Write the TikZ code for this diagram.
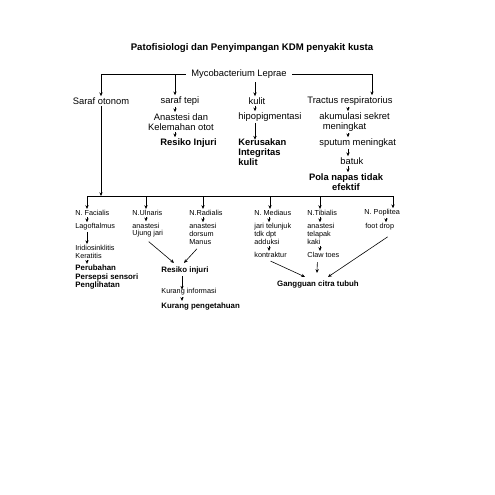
\documentclass[tikz,border=0pt]{standalone}
\usepackage{fontspec}
\setmainfont{Liberation Sans}
\usetikzlibrary{arrows.meta,calc}
\begin{document}
\begin{tikzpicture}[
    x=0.03cm, y=-0.03cm,
    ttl/.style={font=\bfseries\fontsize{8.2}{9}\selectfont, inner sep=1pt},
    big/.style={font=\fontsize{8}{8.6}\selectfont, inner sep=1pt, align=left},
    bigb/.style={big, font=\bfseries\fontsize{8}{8.4}\selectfont},
    sml/.style={font=\fontsize{6.2}{6.6}\selectfont, inner sep=1pt, align=left},
    smlb/.style={sml, font=\bfseries\fontsize{6.7}{6.9}\selectfont},
    arr/.style={-{Stealth[length=3.2pt,width=2.8pt]}, line width=0.5pt},
    ln/.style={line width=0.5pt}
  ]
    \useasboundingbox (0,0) rectangle (495,495);
    \node[ttl] (title) at (252,48) {Patofisiologi dan Penyimpangan KDM penyakit kusta};
    \node[big, inner xsep=4.5pt] (myco) at (239,74) {Mycobacterium Leprae};
    % upper branches
    \node[big] (otonom) at (101,101) {Saraf otonom};
    \node[big] (tepi) at (180,101) {saraf tepi};
    \node[big] (kulit) at (257,101) {kulit};
    \node[big] (tractus) at (350,101) {Tractus respiratorius};
    \node[big, align=center] (anastesi) at (181,122) {Anastesi dan\\Kelemahan otot};
    \node[bigb, anchor=west] (resiko1) at (159,143) {Resiko Injuri};
    \node[big, anchor=west] (hipo) at (237,117) {hipopigmentasi};
    \node[bigb, anchor=west] (kerusakan) at (237,152) {Kerusakan\\Integritas\\kulit};
    \node[big, anchor=west] (akumulasi) at (318,122) {akumulasi sekret\\\hspace*{3pt}meningkat};
    \node[big, anchor=west] (sputum) at (318,143) {sputum meningkat};
    \node[big, anchor=west] (batuk) at (339,161) {batuk};
    \node[bigb, align=center] (pola) at (346,182) {Pola napas tidak\\efektif};
    \coordinate (cTepi) at (175,0);
    \coordinate (cKulit) at (255,0);
    \coordinate (cResp) at (372,0);
    \coordinate (cNapas) at (348,0);
    \draw[arr] (myco.west) -| (otonom.north);
    \draw[arr] (myco.west -| cTepi) -- (tepi.north -| cTepi);
    \draw[arr] (myco.east) -| (tractus.north -| cResp);
    \draw[arr, shorten <=2pt] (myco.south -| cKulit) -- (kulit.north -| cKulit);
    \draw[arr] (tepi.south -| cTepi) -- (anastesi.north -| cTepi);
    \draw[arr] (anastesi.south -| cTepi) -- (resiko1.north -| cTepi);
    \draw[arr] (kulit.south -| cKulit) -- (hipo.north -| cKulit);
    \draw[arr] (hipo.south -| cKulit) -- ([yshift=-2pt]kerusakan.north -| cKulit);
    \draw[arr] (tractus.south -| cNapas) -- (akumulasi.north -| cNapas);
    \draw[arr] (akumulasi.south -| cNapas) -- (sputum.north -| cNapas);
    \draw[arr] (sputum.south -| cNapas) -- (batuk.north -| cNapas);
    \draw[arr] (batuk.south -| cNapas) -- (pola.north -| cNapas);
    % nerves
    \coordinate (busL) at (87,196);
    \coordinate (busR) at (393,196);
    \draw[ln] (busL) -- (busR);
    \draw[arr] (otonom.south) -- (otonom.south |- busL);
    \node[sml, anchor=west] (facialis) at (74,213) {N. Facialis};
    \node[sml, anchor=west] (ulnaris) at (131,213) {N.Ulnaris};
    \node[sml, anchor=west] (radialis) at (188,213) {N.Radialis};
    \node[sml, anchor=west] (mediaus) at (253,213) {N. Mediaus};
    \node[sml, anchor=west] (tibialis) at (306,213) {N.Tibialis};
    \node[sml, anchor=west] (poplitea) at (363,213) {N. Poplitea};
    \foreach \n/\c in {facialis/87, ulnaris/146, radialis/203, mediaus/270, tibialis/320, poplitea/393} {
      \coordinate (col) at (\c,196);
      \draw[arr] (col) -- (\n.north -| col);
    }
    \node[sml, anchor=west] (lagof) at (74,227) {Lagoftalmus};
    \node[sml, anchor=west] (irid) at (74,252) {Iridiosinklitis\\Keratitis};
    \node[smlb, anchor=west] (perubahan) at (74,277) {Perubahan\\Persepsi sensori\\Penglihatan};
    \node[sml, anchor=west] (anas1) at (131,230) {anastesi\\Ujung jari};
    \node[sml, anchor=west] (anas2) at (188,234) {anastesi\\dorsum\\Manus};
    \node[smlb, anchor=west] (resiko2) at (160,270) {Resiko injuri};
    \node[sml, anchor=west] (info) at (160,292) {Kurang informasi};
    \node[smlb, anchor=west] (tahu) at (160,306) {Kurang pengetahuan};
    \node[sml, anchor=west] (jari) at (253,234) {jari telunjuk\\tdk dpt\\adduksi};
    \node[sml, anchor=west] (kontraktur) at (253,255) {kontraktur};
    \node[sml, anchor=west] (anas3) at (306,234) {anastesi\\telapak\\kaki};
    \node[sml, anchor=west] (claw) at (306,255) {Claw toes};
    \node[sml, anchor=west] (foot) at (364,227) {foot drop};
    \node[smlb] (gangguan) at (318,284) {Gangguan citra tubuh};
    \coordinate (cFac) at (87,0);
    \coordinate (cUln) at (146,0);
    \coordinate (cRad) at (203,0);
    \coordinate (cMed) at (269,0);
    \coordinate (cTib) at (320,0);
    \coordinate (cPop) at (386,0);
    \coordinate (cRes) at (182,0);
    \draw[arr] (facialis.south -| cFac) -- (lagof.north -| cFac);
    \draw[arr] (lagof.south -| cFac) -- (irid.north -| cFac);
    \draw[arr] (irid.south -| cFac) -- (perubahan.north -| cFac);
    \draw[arr] (ulnaris.south -| cUln) -- (anas1.north -| cUln);
    \draw[arr] (radialis.south -| cRad) -- (anas2.north -| cRad);
    \draw[arr] (mediaus.south -| cMed) -- (jari.north -| cMed);
    \draw[arr] (jari.south -| cMed) -- (kontraktur.north -| cMed);
    \draw[arr] (tibialis.south -| cTib) -- (anas3.north -| cTib);
    \draw[arr] (anas3.south -| cTib) -- (claw.north -| cTib);
    \draw[arr] (poplitea.south -| cPop) -- (foot.north -| cPop);
    \draw[arr] ($(anas1.south)+(1,3)$) -- ($(resiko2.north)+(-11,-2)$);
    \draw[arr] ($(anas2.south)+(-6,3)$) -- ($(resiko2.north)+(-1,-2)$);
    \draw[arr] ([yshift=-1pt]resiko2.south -| cRes) -- ([yshift=-2pt]info.north -| cRes);
    \draw[arr] (info.south -| cRes) -- (tahu.north -| cRes);
    \draw[arr] ($(kontraktur.south)+(0,2)$) -- ($(gangguan.north)+(-13,-2)$);
    \draw[arr] ($(claw.south)+(-6,3)$) -- ($(gangguan.north)+(-1,-6)$);
    \draw[arr] ($(foot.south)+(8,5)$) -- ($(gangguan.north)+(10,-2)$);
  \end{tikzpicture}
\end{document}
